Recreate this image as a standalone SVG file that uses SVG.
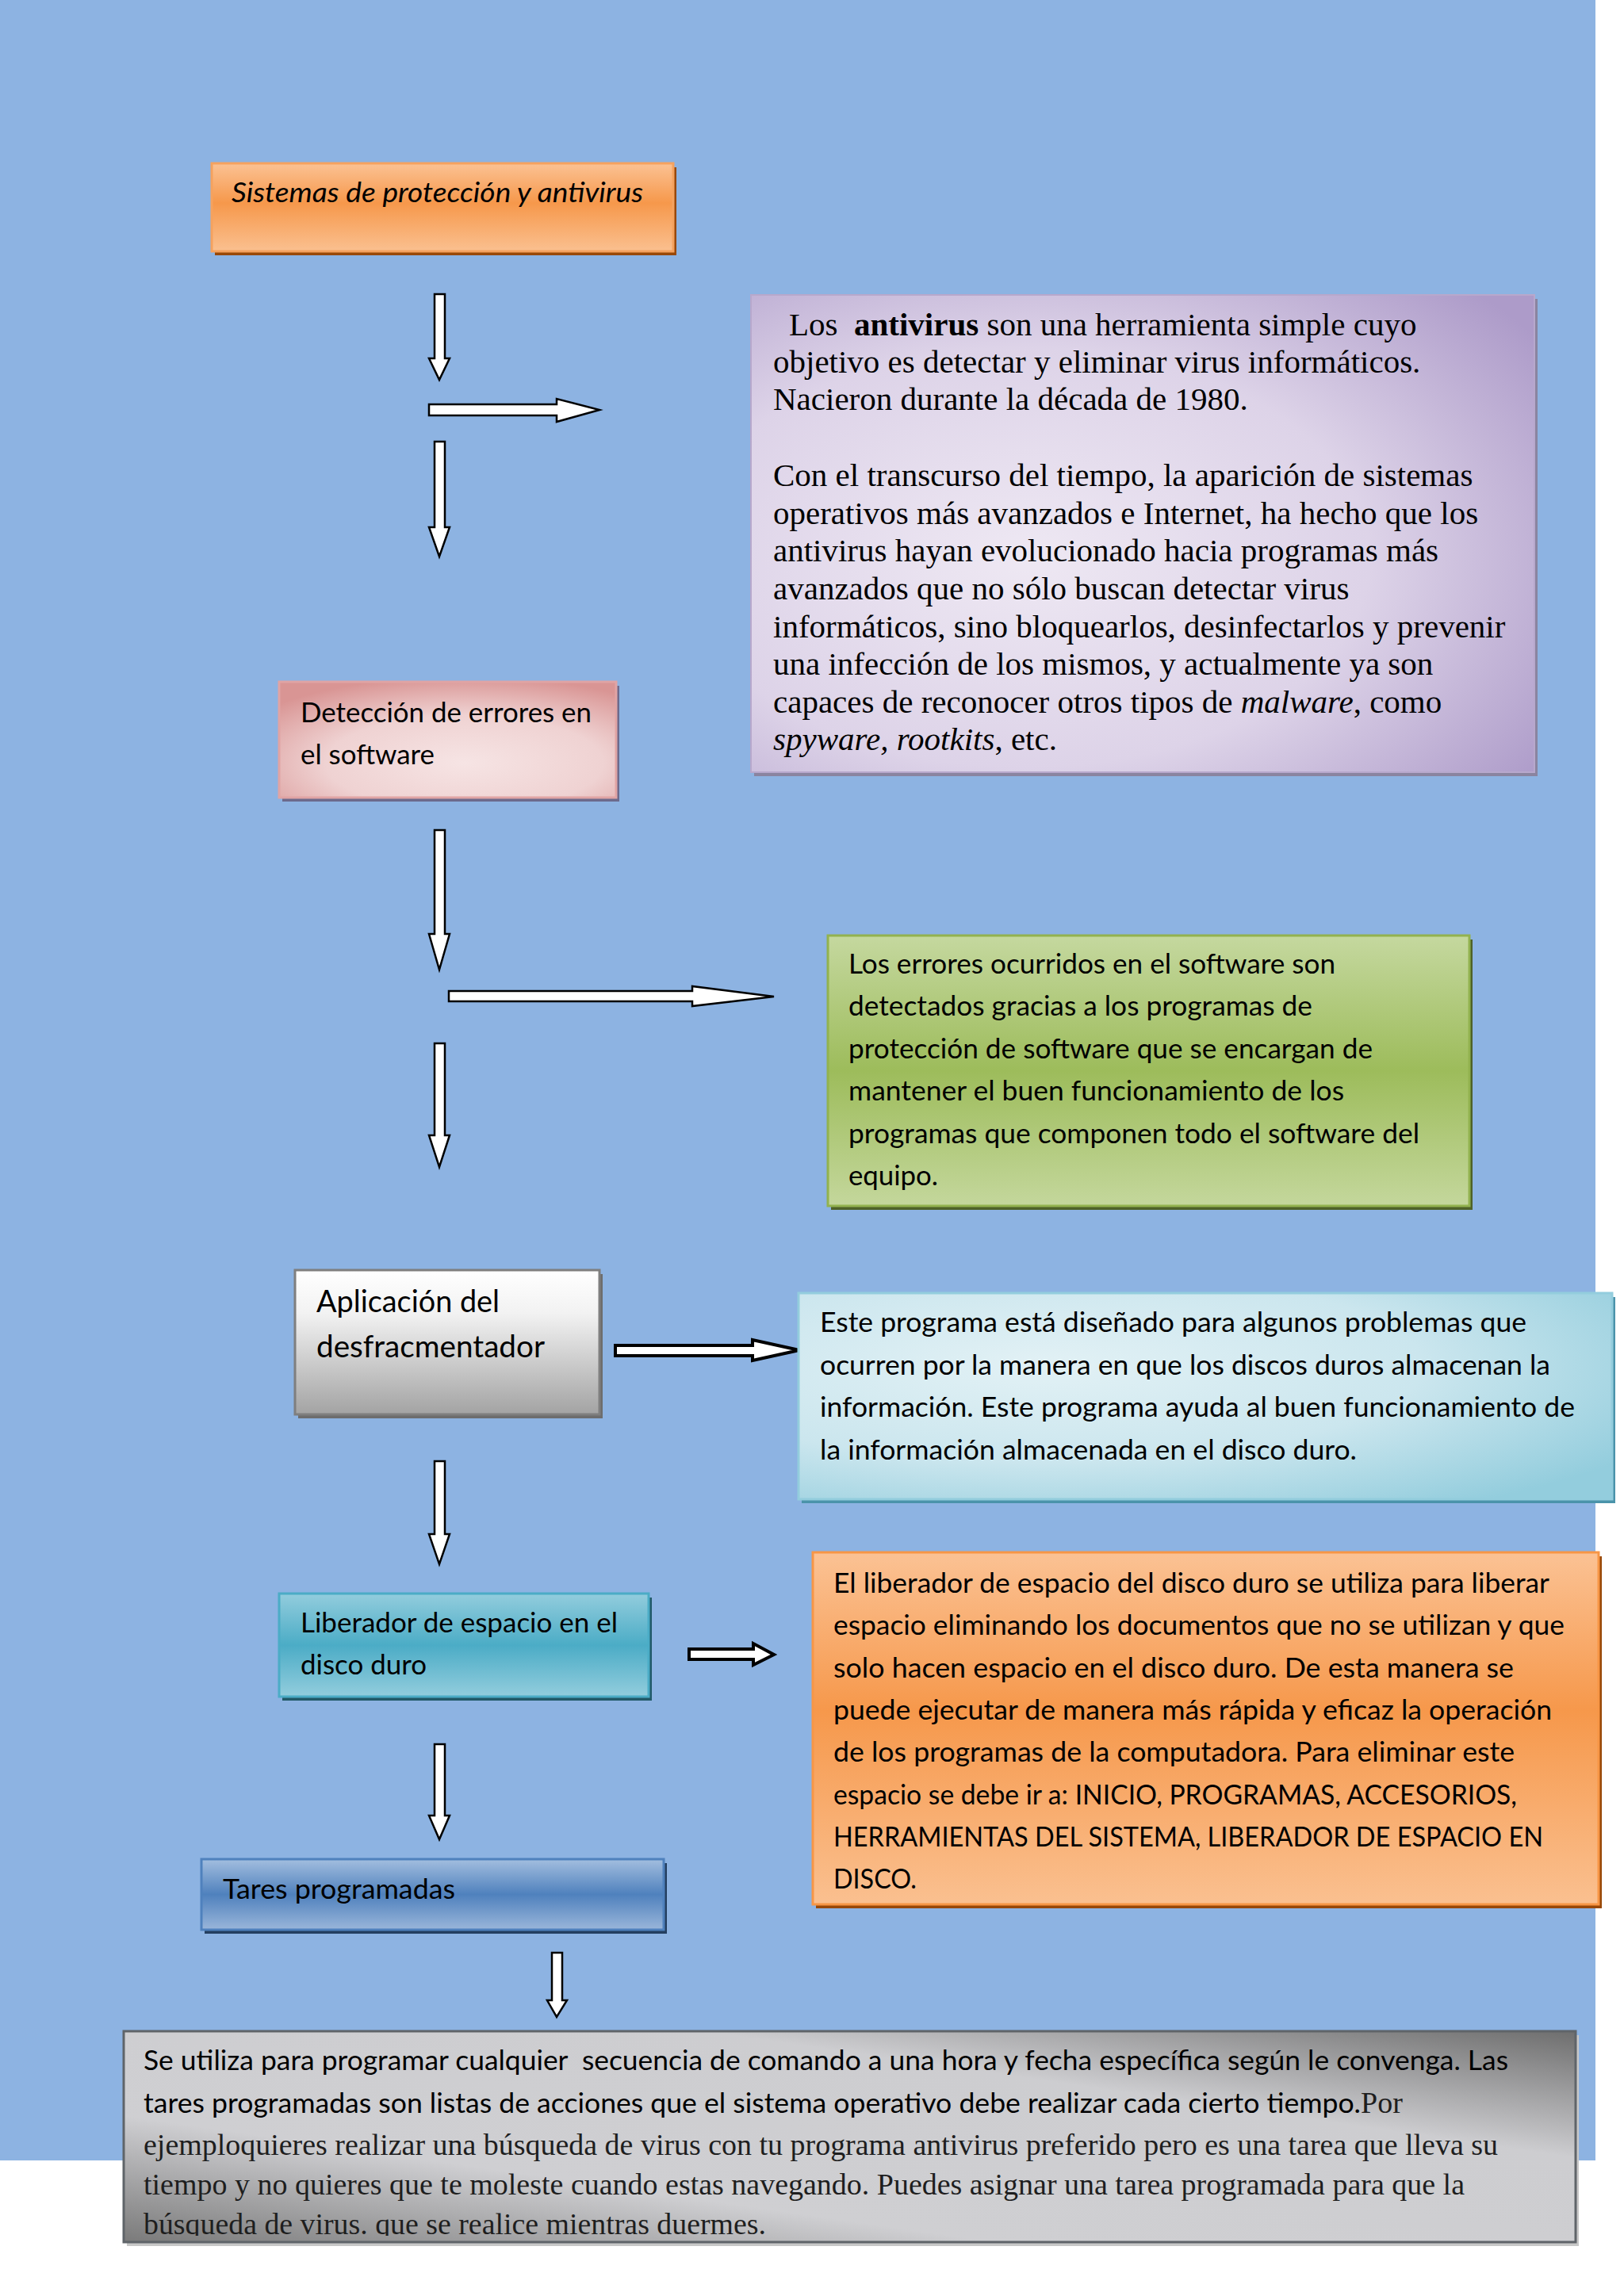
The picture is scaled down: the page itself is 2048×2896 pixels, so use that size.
<svg xmlns="http://www.w3.org/2000/svg" width="2048" height="2896" viewBox="0 0 2048 2896">
<style>
.cal{font-family:Lato,'Open Sans','Liberation Sans',sans-serif;font-size:35px;fill:#000}
.big{font-size:38px}
.tnr{font-family:'Liberation Serif','Times New Roman',serif;font-size:41px;fill:#000}
.tnr2{font-family:'Liberation Serif','Times New Roman',serif;font-size:38px;fill:#1e1e1e}
.arrow{fill:#fff;stroke:#000;stroke-width:2.5;stroke-linejoin:miter}
.arrowb{fill:#fff;stroke:#000;stroke-width:4;stroke-linejoin:miter}
</style>
<defs>
<linearGradient id="gOrange" x1="0" y1="0" x2="0" y2="1">
<stop offset="0" stop-color="#fbc294"/><stop offset="0.45" stop-color="#f6984b"/><stop offset="1" stop-color="#fac090"/>
</linearGradient>
<radialGradient id="gPurple" cx="0.35" cy="0.55" r="0.8">
<stop offset="0" stop-color="#eee8f3"/><stop offset="0.55" stop-color="#ddd3e8"/><stop offset="1" stop-color="#ad9bc9"/>
</radialGradient>
<radialGradient id="gPink" cx="0.55" cy="0.7" r="0.75">
<stop offset="0" stop-color="#f6e4e4"/><stop offset="0.55" stop-color="#efd2d2"/><stop offset="1" stop-color="#d99594"/>
</radialGradient>
<linearGradient id="gGreen" x1="0" y1="0" x2="0" y2="1">
<stop offset="0" stop-color="#c5d89f"/><stop offset="0.5" stop-color="#9dbc5b"/><stop offset="1" stop-color="#c4d79c"/>
</linearGradient>
<linearGradient id="gSilver" x1="0" y1="0" x2="0" y2="1">
<stop offset="0" stop-color="#ffffff"/><stop offset="0.3" stop-color="#f2f2f2"/><stop offset="1" stop-color="#a3a3a3"/>
</linearGradient>
<radialGradient id="gCyan" cx="0.3" cy="0.35" r="0.85">
<stop offset="0" stop-color="#e2f1f5"/><stop offset="0.55" stop-color="#cbe6ee"/><stop offset="1" stop-color="#93cddd"/>
</radialGradient>
<linearGradient id="gTeal" x1="0" y1="0" x2="0" y2="1">
<stop offset="0" stop-color="#93cddd"/><stop offset="0.5" stop-color="#4bacc6"/><stop offset="1" stop-color="#93cddd"/>
</linearGradient>
<linearGradient id="gBlue" x1="0" y1="0" x2="0" y2="1">
<stop offset="0" stop-color="#a3bedf"/><stop offset="0.5" stop-color="#4f81bd"/><stop offset="1" stop-color="#9ab6da"/>
</linearGradient>
<linearGradient id="gGray" x1="0" y1="1" x2="1" y2="0">
<stop offset="0" stop-color="#7a7a7a"/><stop offset="0.3" stop-color="#cfcfd2"/><stop offset="0.7" stop-color="#cdcdd0"/><stop offset="1" stop-color="#6e6e6e"/>
</linearGradient>
<clipPath id="clipGray"><rect x="156" y="2562" width="1831" height="258"/></clipPath>
</defs>

<rect x="0" y="0" width="2048" height="2896" fill="#ffffff"/>
<rect x="0" y="0" width="2012" height="2725" fill="#8db3e2"/>

<g id="connectors">
<polygon class="arrow" points="548,371 561,371 561,452 567,452 554,479 541,452 548,452"/>
<polygon class="arrow" points="541,510 702,510 702,503 756,517 702,532 702,524 541,524"/>
<polygon class="arrow" points="548,557 561,557 561,665 567,665 554,702 541,665 548,665"/>
<polygon class="arrow" points="548,1047 561,1047 561,1178 567,1178 554,1223 541,1178 548,1178"/>
<polygon class="arrow" points="566,1250 873,1250 873,1244 976,1257 873,1269 873,1263 566,1263"/>
<polygon class="arrow" points="548,1316 561,1316 561,1432 567,1432 554,1472 541,1432 548,1432"/>
<polygon class="arrowb" points="776,1697 949,1697 949,1690 1008,1703 949,1716 949,1710 776,1710"/>
<polygon class="arrow" points="548,1843 561,1843 561,1935 567,1935 554,1973 541,1935 548,1935"/>
<polygon class="arrowb" points="869,2080 950,2080 950,2073 976,2087 950,2100 950,2093 869,2093"/>
<polygon class="arrow" points="548,2200 561,2200 561,2290 567,2290 554,2320 541,2290 548,2290"/>
<polygon class="arrow" points="696,2463 709,2463 709,2523 715,2523 702,2544 690,2523 696,2523"/>
</g>

<g id="node-sistemas">
<rect x="271" y="211" width="582" height="111" fill="#984807"/>
<rect x="267" y="206" width="582" height="111" fill="url(#gOrange)" stroke="#f5a25f" stroke-width="3"/>
<text class="cal" x="292" y="255" font-style="italic" textLength="519" lengthAdjust="spacingAndGlyphs">Sistemas de protección y antivirus</text>
</g>

<g id="node-antivirus-texto">
<rect x="951" y="377" width="988" height="602" fill="#8a84a0"/>
<rect x="947" y="372" width="988" height="602" fill="url(#gPurple)" stroke="#b7a8cc" stroke-width="2"/>
<text class="tnr" x="995" y="423">Los<tspan x="1077" font-weight="bold">antivirus</tspan> son una herramienta simple cuyo</text>
<text class="tnr" x="975" y="470">objetivo es detectar y eliminar virus informáticos.</text>
<text class="tnr" x="975" y="517">Nacieron durante la década de 1980.</text>
<text class="tnr" x="975" y="613">Con el transcurso del tiempo, la aparición de sistemas</text>
<text class="tnr" x="975" y="661">operativos más avanzados e Internet, ha hecho que los</text>
<text class="tnr" x="975" y="708">antivirus hayan evolucionado hacia programas más</text>
<text class="tnr" x="975" y="756">avanzados que no sólo buscan detectar virus</text>
<text class="tnr" x="975" y="804">informáticos, sino bloquearlos, desinfectarlos y prevenir</text>
<text class="tnr" x="975" y="851">una infección de los mismos, y actualmente ya son</text>
<text class="tnr" x="975" y="899">capaces de reconocer otros tipos de <tspan font-style="italic">malware</tspan>, como</text>
<text class="tnr" x="975" y="946"><tspan font-style="italic">spyware, rootkits</tspan>, etc.</text>
</g>

<g id="node-deteccion">
<rect x="356" y="865" width="425" height="146" fill="#6c6a8c"/>
<rect x="352" y="860" width="425" height="146" fill="url(#gPink)" stroke="#e0a4a4" stroke-width="3"/>
<text class="cal" x="379" y="911" textLength="367" lengthAdjust="spacingAndGlyphs">Detección de errores en</text>
<text class="cal" x="379" y="964" textLength="169" lengthAdjust="spacingAndGlyphs">el software</text>
</g>

<g id="node-errores-texto">
<rect x="1048" y="1185" width="809" height="341" fill="#4f6228"/>
<rect x="1044" y="1180" width="809" height="341" fill="url(#gGreen)" stroke="#92b24f" stroke-width="3"/>
<text class="cal" x="1070" y="1228" textLength="614" lengthAdjust="spacingAndGlyphs">Los errores ocurridos en el software son</text>
<text class="cal" x="1070" y="1281" textLength="585" lengthAdjust="spacingAndGlyphs">detectados gracias a los programas de</text>
<text class="cal" x="1070" y="1335" textLength="661" lengthAdjust="spacingAndGlyphs">protección de software que se encargan de</text>
<text class="cal" x="1070" y="1388" textLength="625" lengthAdjust="spacingAndGlyphs">mantener el buen funcionamiento de los</text>
<text class="cal" x="1070" y="1442" textLength="720" lengthAdjust="spacingAndGlyphs">programas que componen todo el software del</text>
<text class="cal" x="1070" y="1495" textLength="113" lengthAdjust="spacingAndGlyphs">equipo.</text>
</g>

<g id="node-desfragmentador">
<rect x="376" y="1607" width="384" height="182" fill="#6d6d6d"/>
<rect x="372" y="1602" width="384" height="182" fill="url(#gSilver)" stroke="#7f7f7f" stroke-width="3"/>
<text class="cal big" x="399" y="1655" textLength="231" lengthAdjust="spacingAndGlyphs">Aplicación del</text>
<text class="cal big" x="399" y="1712" textLength="288" lengthAdjust="spacingAndGlyphs">desfracmentador</text>
</g>

<g id="node-desfragmentador-texto">
<rect x="1011" y="1636" width="1026" height="260" fill="#4a93aa"/>
<rect x="1007" y="1631" width="1026" height="260" fill="url(#gCyan)" stroke="#93cddd" stroke-width="3"/>
<text class="cal" x="1034" y="1680" textLength="891" lengthAdjust="spacingAndGlyphs">Este programa está diseñado para algunos problemas que</text>
<text class="cal" x="1034" y="1734" textLength="921" lengthAdjust="spacingAndGlyphs">ocurren por la manera en que los discos duros almacenan la</text>
<text class="cal" x="1034" y="1787" textLength="952" lengthAdjust="spacingAndGlyphs">información. Este programa ayuda al buen funcionamiento de</text>
<text class="cal" x="1034" y="1841" textLength="677" lengthAdjust="spacingAndGlyphs">la información almacenada en el disco duro.</text>
</g>

<g id="node-liberador">
<rect x="356" y="2015" width="466" height="130" fill="#215968"/>
<rect x="352" y="2010" width="466" height="130" fill="url(#gTeal)" stroke="#4bacc6" stroke-width="3"/>
<text class="cal" x="379" y="2059" textLength="400" lengthAdjust="spacingAndGlyphs">Liberador de espacio en el</text>
<text class="cal" x="379" y="2112" textLength="159" lengthAdjust="spacingAndGlyphs">disco duro</text>
</g>

<g id="node-liberador-texto">
<rect x="1029" y="1963" width="991" height="444" fill="#984807"/>
<rect x="1025" y="1958" width="991" height="444" fill="url(#gOrange)" stroke="#f79646" stroke-width="3"/>
<text class="cal" x="1051" y="2009" textLength="903" lengthAdjust="spacingAndGlyphs">El liberador de espacio del disco duro se utiliza para liberar</text>
<text class="cal" x="1051" y="2062" textLength="922" lengthAdjust="spacingAndGlyphs">espacio eliminando los documentos que no se utilizan y que</text>
<text class="cal" x="1051" y="2116" textLength="858" lengthAdjust="spacingAndGlyphs">solo hacen espacio en el disco duro. De esta manera se</text>
<text class="cal" x="1051" y="2169" textLength="906" lengthAdjust="spacingAndGlyphs">puede ejecutar de manera más rápida y eficaz la operación</text>
<text class="cal" x="1051" y="2222" textLength="859" lengthAdjust="spacingAndGlyphs">de los programas de la computadora. Para eliminar este</text>
<text class="cal" x="1051" y="2276" textLength="862" lengthAdjust="spacingAndGlyphs">espacio se debe ir a: INICIO, PROGRAMAS, ACCESORIOS,</text>
<text class="cal" x="1051" y="2329" textLength="895" lengthAdjust="spacingAndGlyphs">HERRAMIENTAS DEL SISTEMA, LIBERADOR DE ESPACIO EN</text>
<text class="cal" x="1051" y="2382" textLength="105" lengthAdjust="spacingAndGlyphs">DISCO.</text>
</g>

<g id="node-tareas">
<rect x="258" y="2350" width="583" height="89" fill="#243f60"/>
<rect x="254" y="2345" width="583" height="89" fill="url(#gBlue)" stroke="#4f81bd" stroke-width="3"/>
<text class="cal" x="281" y="2395" textLength="293" lengthAdjust="spacingAndGlyphs">Tares programadas</text>
</g>

<g id="node-tareas-texto">
<rect x="160" y="2567" width="1831" height="266" fill="#c8c8c8"/>
<rect x="156" y="2562" width="1831" height="266" fill="url(#gGray)" stroke="#5f6469" stroke-width="3"/>
<g clip-path="url(#clipGray)">
<text class="cal" x="181" y="2611" textLength="1721" lengthAdjust="spacingAndGlyphs">Se utiliza para programar cualquier&#160; secuencia de comando a una hora y fecha específica según le convenga. Las</text>
<text class="cal" x="181" y="2665" textLength="1535" lengthAdjust="spacingAndGlyphs">tares programadas son listas de acciones que el sistema operativo debe realizar cada cierto tiempo.</text>
<text class="tnr2" x="1716" y="2665">Por</text>
<text class="tnr2" x="181" y="2718" textLength="1708" lengthAdjust="spacingAndGlyphs">ejemploquieres realizar una búsqueda de virus con tu programa antivirus preferido pero es una tarea que lleva su</text>
<text class="tnr2" x="181" y="2768" textLength="1666" lengthAdjust="spacingAndGlyphs">tiempo y no quieres que te moleste cuando estas navegando. Puedes asignar una tarea programada para que la</text>
<text class="tnr2" x="181" y="2818" textLength="785" lengthAdjust="spacingAndGlyphs">búsqueda de virus. que se realice mientras duermes.</text>
</g>
</g>
</svg>
